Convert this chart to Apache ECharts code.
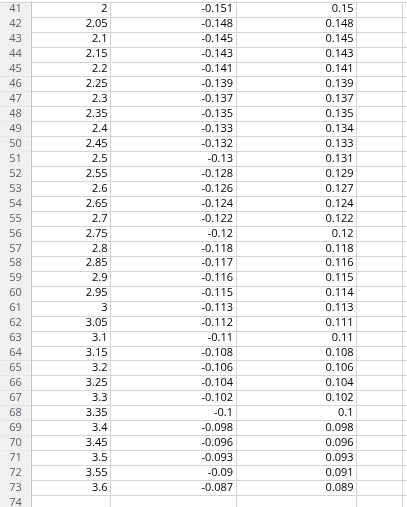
<!DOCTYPE html>
<html><head><meta charset="utf-8">
<script src="https://cdn.jsdelivr.net/npm/echarts@6/dist/echarts.min.js"></script>
<style>html,body{margin:0;padding:0;background:#fff}#c{width:407px;height:507px}</style>
</head><body><div id="c"></div>
<script>
const rowNumbers = [41,42,43,44,45,46,47,48,49,50,51,52,53,54,55,56,57,58,59,60,61,62,63,64,65,66,67,68,69,70,71,72,73,74];
const colA = ['2','2.05','2.1','2.15','2.2','2.25','2.3','2.35','2.4','2.45','2.5','2.55','2.6','2.65','2.7','2.75','2.8','2.85','2.9','2.95','3','3.05','3.1','3.15','3.2','3.25','3.3','3.35','3.4','3.45','3.5','3.55','3.6',''];
const colB = ['-0.151','-0.148','-0.145','-0.143','-0.141','-0.139','-0.137','-0.135','-0.133','-0.132','-0.13','-0.128','-0.126','-0.124','-0.122','-0.12','-0.118','-0.117','-0.116','-0.115','-0.113','-0.112','-0.11','-0.108','-0.106','-0.104','-0.102','-0.1','-0.098','-0.096','-0.093','-0.09','-0.087',''];
const colC = ['0.15','0.148','0.145','0.143','0.141','0.139','0.137','0.135','0.134','0.133','0.131','0.129','0.127','0.124','0.122','0.12','0.118','0.116','0.115','0.114','0.113','0.111','0.11','0.108','0.106','0.104','0.102','0.1','0.098','0.096','0.093','0.091','0.089',''];

const ROW_H = 14.95, TOP = 1.7;
const EDGES = [0, 30.5, 110, 235.5, 356, 401.7];
const FONT = '11px "Open Sans", "Liberation Sans", sans-serif';
const data = rowNumbers.map((r,i)=>[i]);

const chart = echarts.init(document.getElementById('c'), null, {renderer:'canvas'});
chart.setOption({
  animation:false,
  grid:{left:0,right:0,top:0,bottom:0},
  xAxis:{type:'value',min:0,max:407,show:false},
  yAxis:{type:'value',min:0,max:507,inverse:true,show:false},
  series:[{
    type:'custom',
    data:data,
    clip:false,
    renderItem:function(params, api){
      const i = api.value(0);
      const t = TOP + i*ROW_H;
      const p0 = api.coord([0, t]);
      const p1 = api.coord([407, t+ROW_H]);
      const y0 = p0[1], y1 = p1[1], cy = (y0+y1)/2;
      const x = e => api.coord([e, 0])[0];
      const ch = [];
      ch.push({type:'rect',shape:{x:0,y:y0,width:x(EDGES[1]),height:y1-y0},style:{fill:'#f0f0f0'}});
      ch.push({type:'line',shape:{x1:0,y1:Math.round(y1)+0.5,x2:407,y2:Math.round(y1)+0.5},style:{stroke:'#d4d4d4',lineWidth:1}});
      if(i===0) ch.push({type:'line',shape:{x1:0,y1:Math.round(y0)+0.5,x2:407,y2:Math.round(y0)+0.5},style:{stroke:'#d4d4d4',lineWidth:1}});
      for(let k=1;k<EDGES.length;k++){
        const xx = Math.round(x(EDGES[k]))+0.5;
        ch.push({type:'line',shape:{x1:xx,y1:y0,x2:xx,y2:y1},style:{stroke:k===1?'#c0c0c0':'#d4d4d4',lineWidth:1}});
      }
      ch.push({type:'text',style:{text:String(rowNumbers[i]),x:x(15.5),y:cy,align:'center',verticalAlign:'middle',font:FONT,fill:'#5a6270'}});
      const vals=[colA[i],colB[i],colC[i]];
      for(let k=0;k<3;k++){
        ch.push({type:'text',style:{text:vals[k],x:x(EDGES[k+2])-2.5,y:cy,align:'right',verticalAlign:'middle',font:FONT,fill:'#000'}});
      }
      return {type:'group',children:ch};
    }
  }]
});
</script></body></html>
